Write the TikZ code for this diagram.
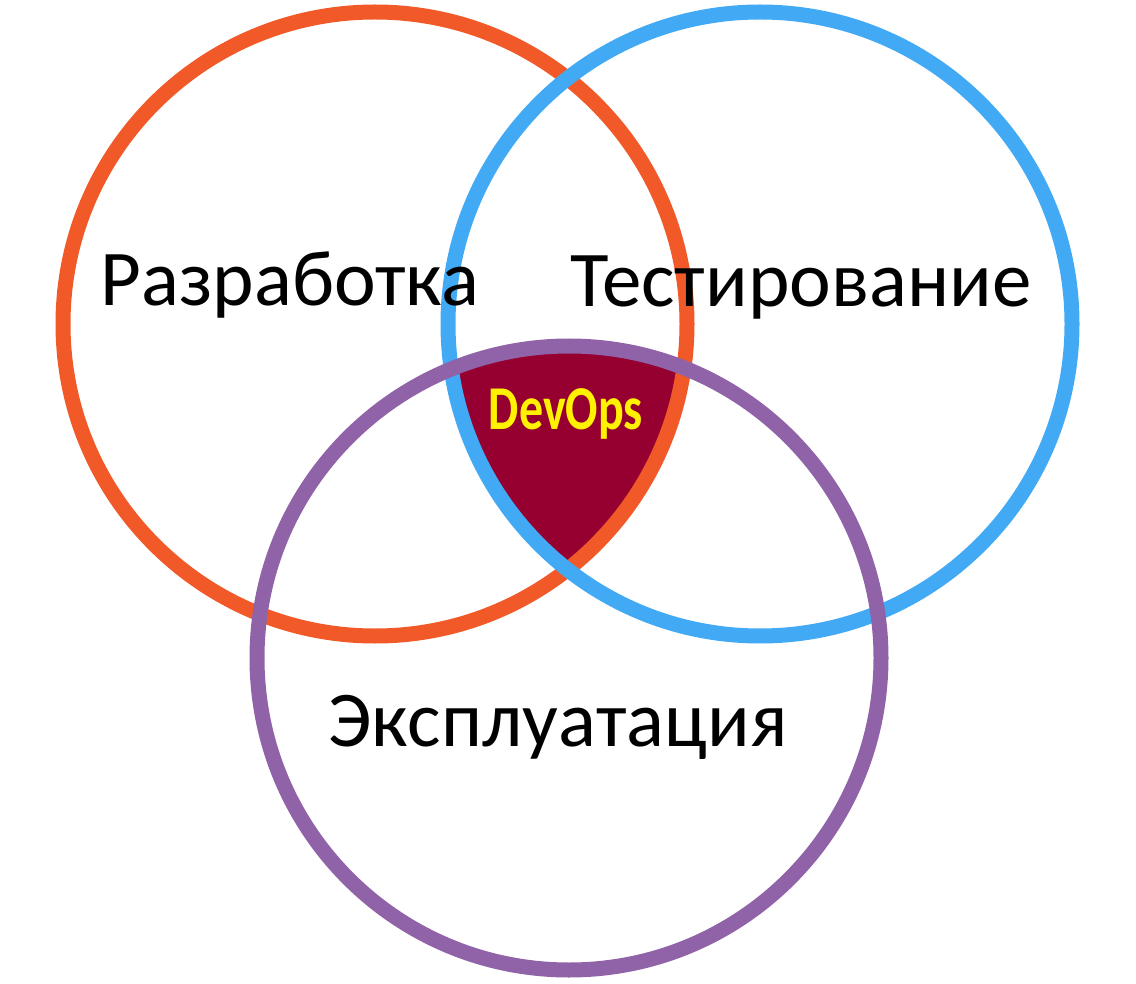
\documentclass[tikz,border=0pt]{standalone}
\usepackage{fontspec}
\setmainfont{Carlito}
\usepackage{xcolor}
\usepackage{tikz}
\definecolor{devorange}{HTML}{F15A28}
\definecolor{testblue}{HTML}{42A9F4}
\definecolor{opspurple}{HTML}{9063A8}
\definecolor{devopsred}{HTML}{950030}

\begin{document}
\begin{tikzpicture}[
    x=1pt, y=-1pt,
    ring/.style={line width=15pt},
    lbl/.style={anchor=base, inner sep=0pt, font=\fontsize{79}{79}\selectfont}
]
    \useasboundingbox (0,0) rectangle (1136,984);
    \coordinate (dev) at (375,324);
    \coordinate (test) at (760,324);
    \coordinate (ops) at (569,658);

    % common part of the three circles
    \begin{scope}
        \clip (dev) circle (312pt);
        \clip (test) circle (312pt);
        \fill[devopsred] (ops) circle (312pt);
    \end{scope}

    \draw[ring, devorange] (dev) circle (312pt);
    \draw[ring, testblue] (test) circle (312pt);
    \draw[ring, opspurple] (ops) circle (312pt);

    \node[lbl] (devlabel) at (290,306) {Разработка};
    \node[lbl] (testlabel) at (801,307) {Тестирование};
    \node[lbl] (opslabel) at (558,746) {Эксплуатация};
    \node[anchor=base, inner sep=0pt, text=yellow, font=\bfseries\fontsize{48}{48}\selectfont, yscale=1.3, transform shape] (devops) at (566,430) {DevOps};
\end{tikzpicture}
\end{document}
